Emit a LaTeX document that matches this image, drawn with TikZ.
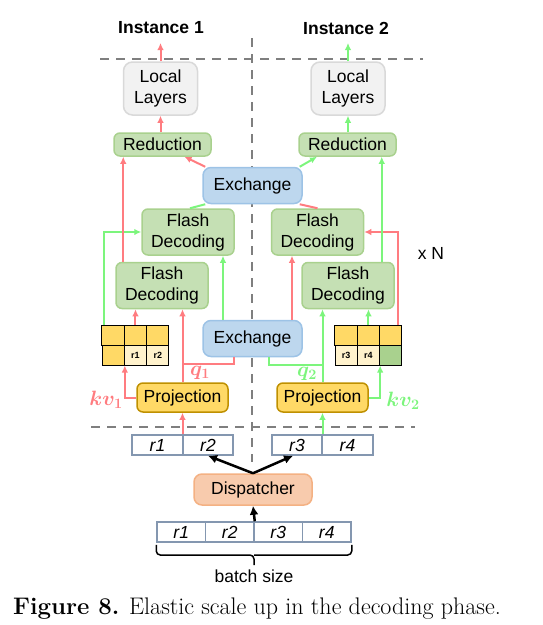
\documentclass[tikz,border=0pt]{standalone}
\usepackage{fontspec}
\setsansfont{Liberation Sans}
\usepackage{amsmath}
\usepackage{bm}
\usetikzlibrary{arrows.meta}

\definecolor{fdfill}{HTML}{C5E0B4}
\definecolor{fddraw}{HTML}{A9D18E}
\definecolor{exfill}{HTML}{BDD7EE}
\definecolor{exdraw}{HTML}{9DC3E6}
\definecolor{llfill}{HTML}{F2F2F2}
\definecolor{lldraw}{HTML}{D9D9D9}
\definecolor{ppfill}{HTML}{FFD966}
\definecolor{ppdraw}{HTML}{BF9000}
\definecolor{dpfill}{HTML}{F8CBAD}
\definecolor{dpdraw}{HTML}{F4B183}
\definecolor{kvlite}{HTML}{FFF2CC}
\definecolor{kvgreen}{HTML}{A9D18E}
\definecolor{rdraw}{HTML}{8497B0}
\definecolor{redln}{HTML}{FF7C80}
\definecolor{grnln}{HTML}{7CF57C}
\definecolor{sepgray}{HTML}{7F7F7F}

\tikzset{
	txt/.style={font=\sffamily\fontsize{17.5}{21}\selectfont},
	box/.style={txt, draw, line width=1.5pt, rounded corners=6pt, align=center, inner sep=0pt},
	llbox/.style={box, fill=llfill, draw=lldraw, rounded corners=9pt, minimum width=74pt, minimum height=53pt},
	redbox/.style={box, fill=fdfill, draw=fddraw, minimum width=97pt, minimum height=23pt},
	fdbox/.style={box, fill=fdfill, draw=fddraw, minimum width=92pt, minimum height=46pt},
	exbox/.style={box, fill=exfill, draw=exdraw, rounded corners=8pt, minimum width=99pt, minimum height=36pt},
	projbox/.style={box, fill=ppfill, draw=ppdraw, minimum width=91pt, minimum height=29pt},
	dispbox/.style={box, fill=dpfill, draw=dpdraw, rounded corners=8pt, minimum width=118pt, minimum height=31pt},
	rcell/.style={txt, draw=rdraw, line width=1.5pt, fill=white, inner sep=0pt, minimum height=20pt, font=\sffamily\itshape\fontsize{17.5}{21}\selectfont},
	kvcell/.style={draw=black, line width=1pt, fill=ppfill, inner sep=0pt, minimum width=22.33pt, minimum height=20pt, font=\sffamily\bfseries\fontsize{9}{9}\selectfont},
	redarr/.style={draw=redln, line width=2pt, -{Latex[length=7pt,width=6.5pt]}},
	grnarr/.style={draw=grnln, line width=2pt, -{Latex[length=7pt,width=6.5pt]}},
	redline/.style={draw=redln, line width=2pt},
	grnline/.style={draw=grnln, line width=2pt},
	blkarr/.style={draw=black, line width=2.5pt, -{Latex[length=9pt,width=9pt]}},
	sepline/.style={draw=sepgray, line width=2.5pt, dash pattern=on 9pt off 7pt},
	lbl/.style={font=\fontsize{21}{21}\selectfont}
}

\begin{document}
\begin{tikzpicture}[x=1pt, y=-1pt]
	\useasboundingbox (0,0) rectangle (542,625);

	% separators
	\draw[sepline] (100,59) -- (423,59);
	\draw[sepline] (91,427) -- (415,427);
	\draw[sepline] (252,38) -- (252,462);

	\node[txt, font=\sffamily\bfseries\fontsize{17.5}{21}\selectfont] (inst1) at (161,28) {Instance 1};
	\node[txt, font=\sffamily\bfseries\fontsize{17.5}{21}\selectfont] (inst2) at (346,28) {Instance 2};
	\coordinate (outL) at (160.5,43);
	\coordinate (outR) at (348,43);

	% boxes
	\node[llbox] (llL) at (160.5,88.5) {Local\\Layers};
	\node[llbox] (llR) at (348,88.5) {Local\\Layers};
	\node[redbox] (redL) at (162.5,144.5) {Reduction};
	\node[redbox] (redR) at (347.5,144.5) {Reduction};
	\node[exbox] (exT) at (252.5,185.5) {Exchange};
	\node[fdbox] (fdL2) at (188,232) {Flash\\Decoding};
	\node[fdbox] (fdL1) at (162,285.5) {Flash\\Decoding};
	\node[fdbox] (fdR2) at (317.5,232) {Flash\\Decoding};
	\node[fdbox] (fdR1) at (348,285.5) {Flash\\Decoding};
	\node[exbox] (exB) at (252.5,338.5) {Exchange};
	\node[projbox] (ppL) at (182.5,397.5) {Projection};
	\node[projbox] (ppR) at (322.5,397.5) {Projection};
	\node[dispbox] (disp) at (253,489.5) {Dispatcher};
	\node[txt] (xN) at (431,253) {x N};

	% kv tables
	\foreach \i in {1,2,3}
		{
			\node[kvcell] (kvLt\i) at (102+22.33*\i-11.17, 335) {};
			\node[kvcell] (kvRt\i) at (335+22.33*\i-11.17, 335) {};
		}
	\node[kvcell] (kvLb1) at (113.17,355) {};
	\node[kvcell, fill=kvlite] (kvLb2) at (135.5,355) {r1};
	\node[kvcell, fill=kvlite] (kvLb3) at (157.83,355) {r2};
	\node[kvcell, fill=kvlite] (kvRb1) at (346.17,355) {r3};
	\node[kvcell, fill=kvlite] (kvRb2) at (368.5,355) {r4};
	\node[kvcell, fill=kvgreen] (kvRb3) at (390.83,355) {};

	% request boxes
	\node[rcell, minimum width=51pt] (rL1) at (157.5,445) {r1};
	\node[rcell, minimum width=50pt] (rL2) at (208,445) {r2};
	\node[rcell, minimum width=50pt] (rR1) at (297,445) {r3};
	\node[rcell, minimum width=51pt] (rR2) at (347.5,445) {r4};
	\foreach \i/\r in {1/r1, 2/r2, 3/r3, 4/r4}
		\node[rcell, minimum width=48.5pt] (bc\i) at (157+48.5*\i-24.25, 532) {\r};

	% instance 1
	\draw[redarr] (ppL.south |- rL1.north) -- (ppL.south);
	\draw[redarr] (ppL.north) -- (ppL.north |- fdL1.south);
	\coordinate (qL) at (182.5,364);
	\draw[redline] ([xshift=-18.5pt]exB.south) |- (qL);
	\node[lbl, text=redln] (q1) at (200,373) {$\bm{q_1}$};
	\draw[redarr] (ppL.west) -| (kvLb1.south east);
	\node[lbl, text=redln] (kv1) at (106,400) {$\bm{kv_1}$};
	\draw[redarr] (kvLt2.north) -- (kvLt2.north |- fdL1.south);
	\draw[grnarr] ([xshift=3pt]kvLt1.north west) |- (fdL2.west);
	\draw[grnarr] ([xshift=-29.5pt]exB.north) -- ([xshift=-29.5pt]exB.north |- fdL2.south);
	\draw[redarr] ([xshift=8pt]fdL1.north west) -- ([xshift=8pt]fdL1.north west |- redL.south);
	\draw[grnline] ([xshift=2pt]fdL2.north) -- ([xshift=3pt]exT.south west);
	\draw[redarr] ([xshift=3pt]exT.north west) -- ([xshift=22pt]redL.south);
	\draw[redarr] (redL.north -| llL.south) -- (llL.south);
	\draw[redarr] (llL.north) -- (outL);

	% instance 2
	\draw[grnarr] (ppR.south |- rR1.north) -- (ppR.south);
	\draw[grnarr] (ppR.north) -- (ppR.north |- fdR1.south);
	\coordinate (qR) at (322.5,365);
	\draw[grnline] ([xshift=16.5pt]exB.south) |- (qR);
	\node[lbl, text=grnln] (q2) at (307,374) {$\bm{q_2}$};
	\draw[grnarr] (ppR.east) -| (kvRb2.south east);
	\node[lbl, text=grnln] (kv2) at (403,401) {$\bm{kv_2}$};
	\draw[grnarr] (kvRt2.north) -- (kvRt2.north |- fdR1.south);
	\draw[redarr] ([xshift=-4pt]kvRt3.north east) |- (fdR2.east);
	\draw[redarr] ([xshift=39.5pt]exB.north) -- ([xshift=39.5pt]exB.north |- fdR2.south);
	\draw[grnarr] ([xshift=-13pt]fdR1.north east) -- ([xshift=-13pt]fdR1.north east |- redR.south);
	\draw[redline] ([xshift=-3pt]exT.south east) -- (fdR2.north);
	\draw[grnarr] ([xshift=-3pt]exT.north east) -- ([xshift=-30.5pt]redR.south);
	\draw[grnarr] (redR.north -| llR.south) -- (llR.south);
	\draw[grnarr] (llR.north) -- (outR);

	% dispatcher
	\draw[blkarr] (disp.north) -- (rL2.south);
	\draw[blkarr] (disp.north) -- ([xshift=-4pt]rR1.south);
	\draw[blkarr] (bc2.north east) -- (disp.south);

	% batch brace
	\coordinate (tipc) at (254,555);
	\draw[line width=1.5pt, rounded corners=4pt] ([yshift=-2pt]bc1.south west) |- (tipc) -- (254,565);
	\draw[line width=1.5pt, rounded corners=4pt] (tipc) -| ([yshift=-2pt]bc4.south east);
	\node[txt] (bsz) at (254,576) {batch size};

	\node[anchor=base, font=\fontsize{24}{28}\selectfont] (cap) at (257,614) {\textbf{Figure 8.} Elastic scale up in the decoding phase.};
\end{tikzpicture}
\end{document}
